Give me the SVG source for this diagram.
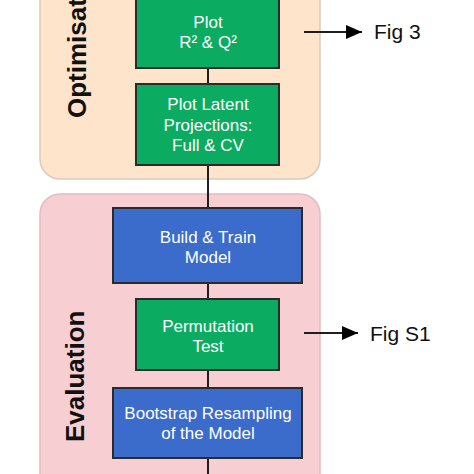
<svg xmlns="http://www.w3.org/2000/svg" width="474" height="474" viewBox="0 0 474 474">
<defs>
<style>
.lbl{font-family:"Liberation Sans",Arial,sans-serif;font-size:17px;fill:#ffffff;text-anchor:middle}
.fig{font-family:"Liberation Sans",Arial,sans-serif;font-size:21px;fill:#111111}
.sec{font-family:"Liberation Sans",Arial,sans-serif;font-size:26px;font-weight:bold;fill:#111111}
.green{fill:#0cab62;stroke:#2b2b2b;stroke-width:2}
.blue{fill:#3b6bcb;stroke:#2b2b2b;stroke-width:2}
.conn{stroke:#1e1e1e;stroke-width:2;fill:none}
</style>
<marker id="ah" viewBox="0 0 10 10" refX="10" refY="5" markerWidth="16" markerHeight="14" markerUnits="userSpaceOnUse" orient="auto" preserveAspectRatio="none">
<path d="M0,0 L10,5 L0,10 z" fill="#000"/>
</marker>
</defs>
<rect width="474" height="474" fill="#ffffff"/>
<g id="panel-optimisation">
<rect x="40" y="-40" width="280" height="219" rx="20" fill="#fde4ca" stroke="#d9cbbd" stroke-width="1.5"/>
<text class="sec" transform="translate(86,118) rotate(-90)">Optimisation</text>
</g>
<g id="panel-evaluation">
<rect x="40" y="194" width="280" height="320" rx="20" fill="#f7cfd2" stroke="#e2bcbf" stroke-width="1.5"/>
<text class="sec" transform="translate(84,442) rotate(-90)">Evaluation</text>
</g>
<g id="connectors">
<line class="conn" x1="208" y1="68" x2="208" y2="84"/>
<line class="conn" x1="208" y1="165" x2="208" y2="208"/>
<line class="conn" x1="208" y1="283" x2="208" y2="299"/>
<line class="conn" x1="208" y1="370" x2="208" y2="388"/>
<line class="conn" x1="208" y1="458" x2="208" y2="474"/>
<line class="conn" x1="304" y1="32" x2="362" y2="32" stroke-width="1.5" marker-end="url(#ah)"/>
<line class="conn" x1="304" y1="333" x2="358" y2="333" stroke-width="1.5" marker-end="url(#ah)"/>
</g>
<g id="node-plot-r2q2">
<rect class="green" x="136" y="-10" width="143" height="78"/>
<text class="lbl" x="208" y="28">Plot</text>
<text class="lbl" x="208" y="48">R² &amp; Q²</text>
</g>
<g id="node-plot-latent">
<rect class="green" x="136" y="84" width="143" height="81"/>
<text class="lbl" x="208" y="110">Plot Latent</text>
<text class="lbl" x="208" y="131">Projections:</text>
<text class="lbl" x="208" y="151">Full &amp; CV</text>
</g>
<g id="node-build-train">
<rect class="blue" x="113" y="208" width="189" height="75"/>
<text class="lbl" x="208" y="243">Build &amp; Train</text>
<text class="lbl" x="208" y="263">Model</text>
</g>
<g id="node-permutation">
<rect class="green" x="136" y="299" width="143" height="71"/>
<text class="lbl" x="208" y="332">Permutation</text>
<text class="lbl" x="208" y="352">Test</text>
</g>
<g id="node-bootstrap">
<rect class="blue" x="113" y="388" width="189" height="70"/>
<text class="lbl" x="208" y="419">Bootstrap Resampling</text>
<text class="lbl" x="208" y="439">of the Model</text>
</g>
<g id="label-fig3">
<text class="fig" x="374" y="39">Fig 3</text>
</g>
<g id="label-figs1">
<text class="fig" x="370" y="341">Fig S1</text>
</g>
</svg>
